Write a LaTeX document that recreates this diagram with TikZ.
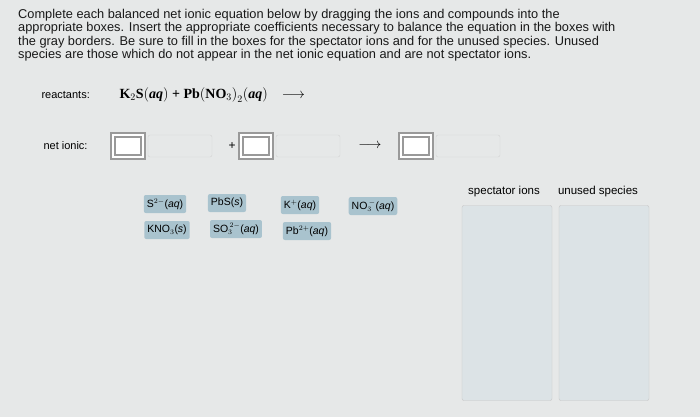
\documentclass[tikz,border=0pt]{standalone}
\usepackage{fontspec}
\setmainfont{Liberation Sans}
\newfontfamily\serifb{Liberation Serif}
\begin{document}
\begin{tikzpicture}[x=1pt,y=-1pt,
  chip/.style={fill=chipc,rounded corners=2pt,inner sep=3pt,font=\fontsize{10.5}{11}\selectfont,minimum height=18pt},
  coef/.style={draw=gray!80,line width=2.2pt,fill=white,minimum width=30pt,minimum height=22pt,inner sep=0pt,double=white,double distance=1.5pt},
  tbox/.style={draw=gray!35,rounded corners=2pt,minimum width=64pt,minimum height=22pt,inner sep=0pt},
  sbox/.style={draw=gray!45,fill=boxc,rounded corners=2pt,minimum width=90pt,minimum height=195pt,inner sep=0pt}]
\definecolor{bgc}{HTML}{E6E8E8}
\definecolor{chipc}{HTML}{A9C3CE}
\definecolor{boxc}{HTML}{DCE3E6}
\fill[bgc] (0,0) rectangle (700,417);
\useasboundingbox (0,0) rectangle (700,417);
\node[anchor=north west,align=left,inner sep=0pt,font=\fontsize{12.8}{13.5}\selectfont,text=black!90] (t) at (18,9)
{Complete each balanced net ionic equation below by dragging the ions and compounds into the\\
appropriate boxes. Insert the appropriate coefficients necessary to balance the equation in the boxes with\\
the gray borders. Be sure to fill in the boxes for the spectator ions and for the unused species. Unused\\
species are those which do not appear in the net ionic equation and are not spectator ions.};
\node[anchor=west,font=\fontsize{11}{12}\selectfont] (r) at (38,95) {reactants:};
\node[anchor=west,font=\serifb\bfseries\fontsize{14}{15}\selectfont] (eq) at (116,95)
{K$_2$S$\bigl($\textit{aq}$\bigr)$ + Pb$\bigl($NO$_3\bigr)_2\bigl($\textit{aq}$\bigr)$\quad$\longrightarrow$};
\node[anchor=west,font=\fontsize{11}{12}\selectfont] (ni) at (40,146) {net ionic:};
\node[coef] (c1) at (128,146) {};
\node[tbox] (b1) at (180,146) {};
\node[font=\fontsize{12}{12}\selectfont] (p) at (232,146) {+};
\node[coef] (c2) at (256,146) {};
\node[tbox] (b2) at (308,146) {};
\node[font=\fontsize{14}{14}\selectfont] (ar) at (370,146) {$\longrightarrow$};
\node[coef] (c3) at (416,146) {};
\node[tbox] (b3) at (468,146) {};
\node[chip] (s1) at (165,204) {S$^{2-}$(\textit{aq})};
\node[chip] (s2) at (227,203) {PbS(\textit{s})};
\node[chip] (s3) at (300,205) {K$^{+}$(\textit{aq})};
\node[chip] (s4) at (373,206) {NO$_3^{\,-}$(\textit{aq})};
\node[chip] (s5) at (167,230) {KNO$_3$(\textit{s})};
\node[chip] (s6) at (236,229) {SO$_3^{\,2-}$(\textit{aq})};
\node[chip] (s7) at (307,231) {Pb$^{2+}$(\textit{aq})};
\node[font=\fontsize{11.5}{12}\selectfont] (l1) at (504,192) {spectator ions};
\node[font=\fontsize{11.5}{12}\selectfont] (l2) at (598,192) {unused species};
\node[sbox] (sp) at (507,303) {};
\node[sbox] (un) at (604,303) {};
\end{tikzpicture}
\end{document}
